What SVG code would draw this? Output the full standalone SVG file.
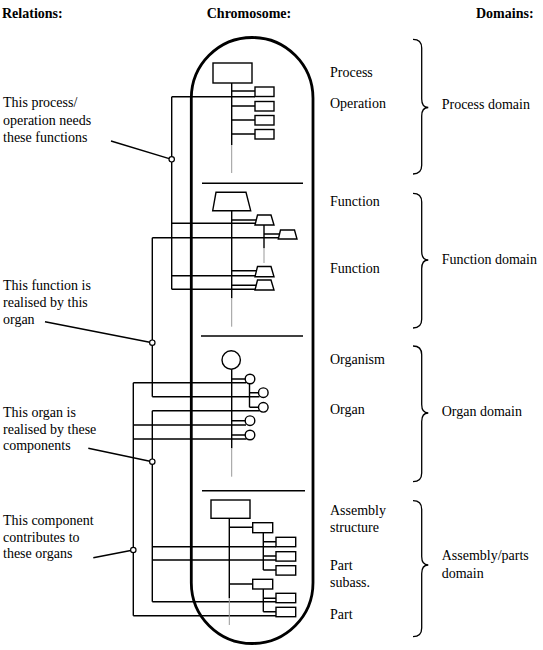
<svg xmlns="http://www.w3.org/2000/svg" width="543" height="650" viewBox="0 0 543 650">
<style>
text{font-family:"Liberation Serif","Times New Roman",serif;font-size:14px;fill:#000}
.h{font-weight:bold}
.ln{stroke:#000;stroke-width:1.4;fill:none}
.sh{stroke:#000;stroke-width:1.4;fill:#fff}
.gr{stroke:#999;stroke-width:1;fill:none}
.sep{stroke:#000;stroke-width:1.6}
.br{stroke:#000;stroke-width:1.3;fill:none}
.dot{stroke:#000;stroke-width:1.2;fill:#fff}
</style>
<rect width="543" height="650" fill="#fff"/>
<g id="headers">
<text class="h" x="2" y="18">Relations:</text>
<text class="h" x="249" y="18" text-anchor="middle">Chromosome:</text>
<text class="h" x="476" y="18">Domains:</text>
</g>
<g id="connectors" class="ln">
<path d="M171.7,96.7V289.3M171.7,96.7H255M171.7,223.3H256M171.7,275.7H255.5M171.7,289.3H255"/>
<path d="M152.3,237.7V396.7M152.3,237.7H278.5M152.3,396.7H259.5"/>
<path d="M152.3,410.7V601.7M152.3,410.7H259.5M152.3,546.7H276M152.3,560H276M152.3,601.7H276"/>
<path d="M133.3,382.7V615.7M133.3,382.7H246M133.3,425H246M133.3,439H246.5M133.3,615.7H276"/>
<path d="M111,141L171.7,159.3M45,321.7L152.3,342.7M88.3,448.3L152.3,461.7M93.3,557.7L133.3,550"/>
</g>
<g id="relation-dots">
<circle class="dot" cx="171.7" cy="159.3" r="2.7"/>
<circle class="dot" cx="152.3" cy="342.7" r="2.7"/>
<circle class="dot" cx="152.3" cy="461.7" r="2.7"/>
<circle class="dot" cx="133.3" cy="550" r="2.7"/>
</g>
<g id="relation-labels">
<text x="3" y="107">This process/</text>
<text x="3" y="124.5">operation needs</text>
<text x="3" y="142">these functions</text>
<text x="3" y="290">This function is</text>
<text x="3" y="307">realised by this</text>
<text x="3" y="324">organ</text>
<text x="3" y="417">This organ is</text>
<text x="3" y="433.5">realised by these</text>
<text x="3" y="450">components</text>
<text x="3" y="525">This component</text>
<text x="3" y="541.5">contributes to</text>
<text x="3" y="558">these organs</text>
</g>
<g id="chromosome">
<rect x="191.3" y="37.5" width="121.7" height="606" rx="60.85" ry="60.85" fill="none" stroke="#000" stroke-width="2.8"/>
</g>
<g id="process-section">
<path class="ln" d="M231.7,83V145M231.7,91H255M231.7,106H255M231.7,120H255M231.7,134H255"/>
<path class="gr" d="M231.7,145V173"/>
<rect class="sh" x="213" y="63" width="39" height="20"/>
<rect class="sh" x="255" y="87" width="19" height="9.5"/>
<rect class="sh" x="255" y="101.5" width="19" height="9.5"/>
<rect class="sh" x="255" y="115.5" width="19" height="9.5"/>
<rect class="sh" x="255" y="129.5" width="19" height="9.5"/>
<text x="330" y="77">Process</text>
<text x="330" y="108">Operation</text>
</g>
<g id="function-section">
<line class="sep" x1="202" y1="183.3" x2="303" y2="183.3"/>
<path class="ln" d="M231.7,210.7V298.3M231.7,220H256M264,225V248.3M264,234H279M231.7,270.7H256M231.7,285.3H256"/>
<path class="gr" d="M231.7,298.3V326.7M264,248.3V263"/>
<polygon class="sh" points="216,192.3 246,192.3 250.7,210.7 212.7,210.7"/>
<polygon class="sh" points="257.5,215 271,215 274,225 255,225"/>
<polygon class="sh" points="280.5,230 294.5,230 297,239 278.3,239"/>
<polygon class="sh" points="257.5,266.5 271,266.5 274,276.7 255,276.7"/>
<polygon class="sh" points="257.5,280 271,280 274,290 255,290"/>
<text x="330" y="206">Function</text>
<text x="330" y="273">Function</text>
</g>
<g id="organ-section">
<line class="sep" x1="201" y1="336" x2="303" y2="336"/>
<path class="ln" d="M231.7,369V448.3M231.7,379H245.2M249.5,383.8V407.3M249.5,392.7H258.5M249.5,407.3H258.5M231.7,420.7H245.2M231.7,435H245.2"/>
<path class="gr" d="M231.7,448.3V476.7"/>
<circle class="sh" cx="231.2" cy="360" r="9.2"/>
<circle class="sh" cx="250" cy="379" r="4.8"/>
<circle class="sh" cx="263.3" cy="392.7" r="4.8"/>
<circle class="sh" cx="263.3" cy="407.3" r="4.8"/>
<circle class="sh" cx="250" cy="420.7" r="4.8"/>
<circle class="sh" cx="250" cy="435" r="4.8"/>
<text x="330" y="364">Organism</text>
<text x="330" y="414">Organ</text>
</g>
<g id="assembly-section">
<line class="sep" x1="202" y1="490.7" x2="305" y2="490.7"/>
<path class="ln" d="M229.3,518.3V598.3M229.3,527.3H252.7M229.3,584H252.7M263.3,532.7V570M263.3,541.7H276M263.3,556H276M263.3,570H276M263.3,589V611.7M263.3,598.3H276M263.3,611.7H276"/>
<path class="gr" d="M229.3,598.3V625"/>
<rect class="sh" x="211" y="500" width="39" height="18.3"/>
<rect class="sh" x="252.7" y="522.7" width="20" height="10"/>
<rect class="sh" x="276" y="537.3" width="19.7" height="9.4"/>
<rect class="sh" x="276" y="551.7" width="19.7" height="9.4"/>
<rect class="sh" x="276" y="565.7" width="19.7" height="9.4"/>
<rect class="sh" x="252.7" y="579.3" width="20" height="9.7"/>
<rect class="sh" x="276" y="593.3" width="19.7" height="9.4"/>
<rect class="sh" x="276" y="607.3" width="19.7" height="9.4"/>
<text x="330" y="515">Assembly</text>
<text x="330" y="532">structure</text>
<text x="330" y="570">Part</text>
<text x="330" y="587">subass.</text>
<text x="330" y="619">Part</text>
</g>
<g id="process-domain">
<path class="br" d="M413,39.3Q421.7,39.3 421.7,48V99Q421.7,107.5 428.3,107.5Q421.7,107.5 421.7,116V165.3Q421.7,174 413,174"/>
<text x="441.7" y="109">Process domain</text>
</g>
<g id="function-domain">
<path class="br" d="M413,193.3Q421.7,193.3 421.7,202V251.3Q421.7,260 428.3,260Q421.7,260 421.7,268.7V319.3Q421.7,328 413,328"/>
<text x="441.7" y="264">Function domain</text>
</g>
<g id="organ-domain">
<path class="br" d="M413,346Q421.7,346 421.7,354.7V404.5Q421.7,413 428.3,413Q421.7,413 421.7,421.5V473Q421.7,481.7 413,481.7"/>
<text x="441.7" y="416">Organ domain</text>
</g>
<g id="assembly-domain">
<path class="br" d="M413,500.7Q421.7,500.7 421.7,509.4V556.5Q421.7,565 428.3,565Q421.7,565 421.7,573.5V628Q421.7,636.7 413,636.7"/>
<text x="441.7" y="560">Assembly/parts</text>
<text x="441.7" y="578">domain</text>
</g>
</svg>
